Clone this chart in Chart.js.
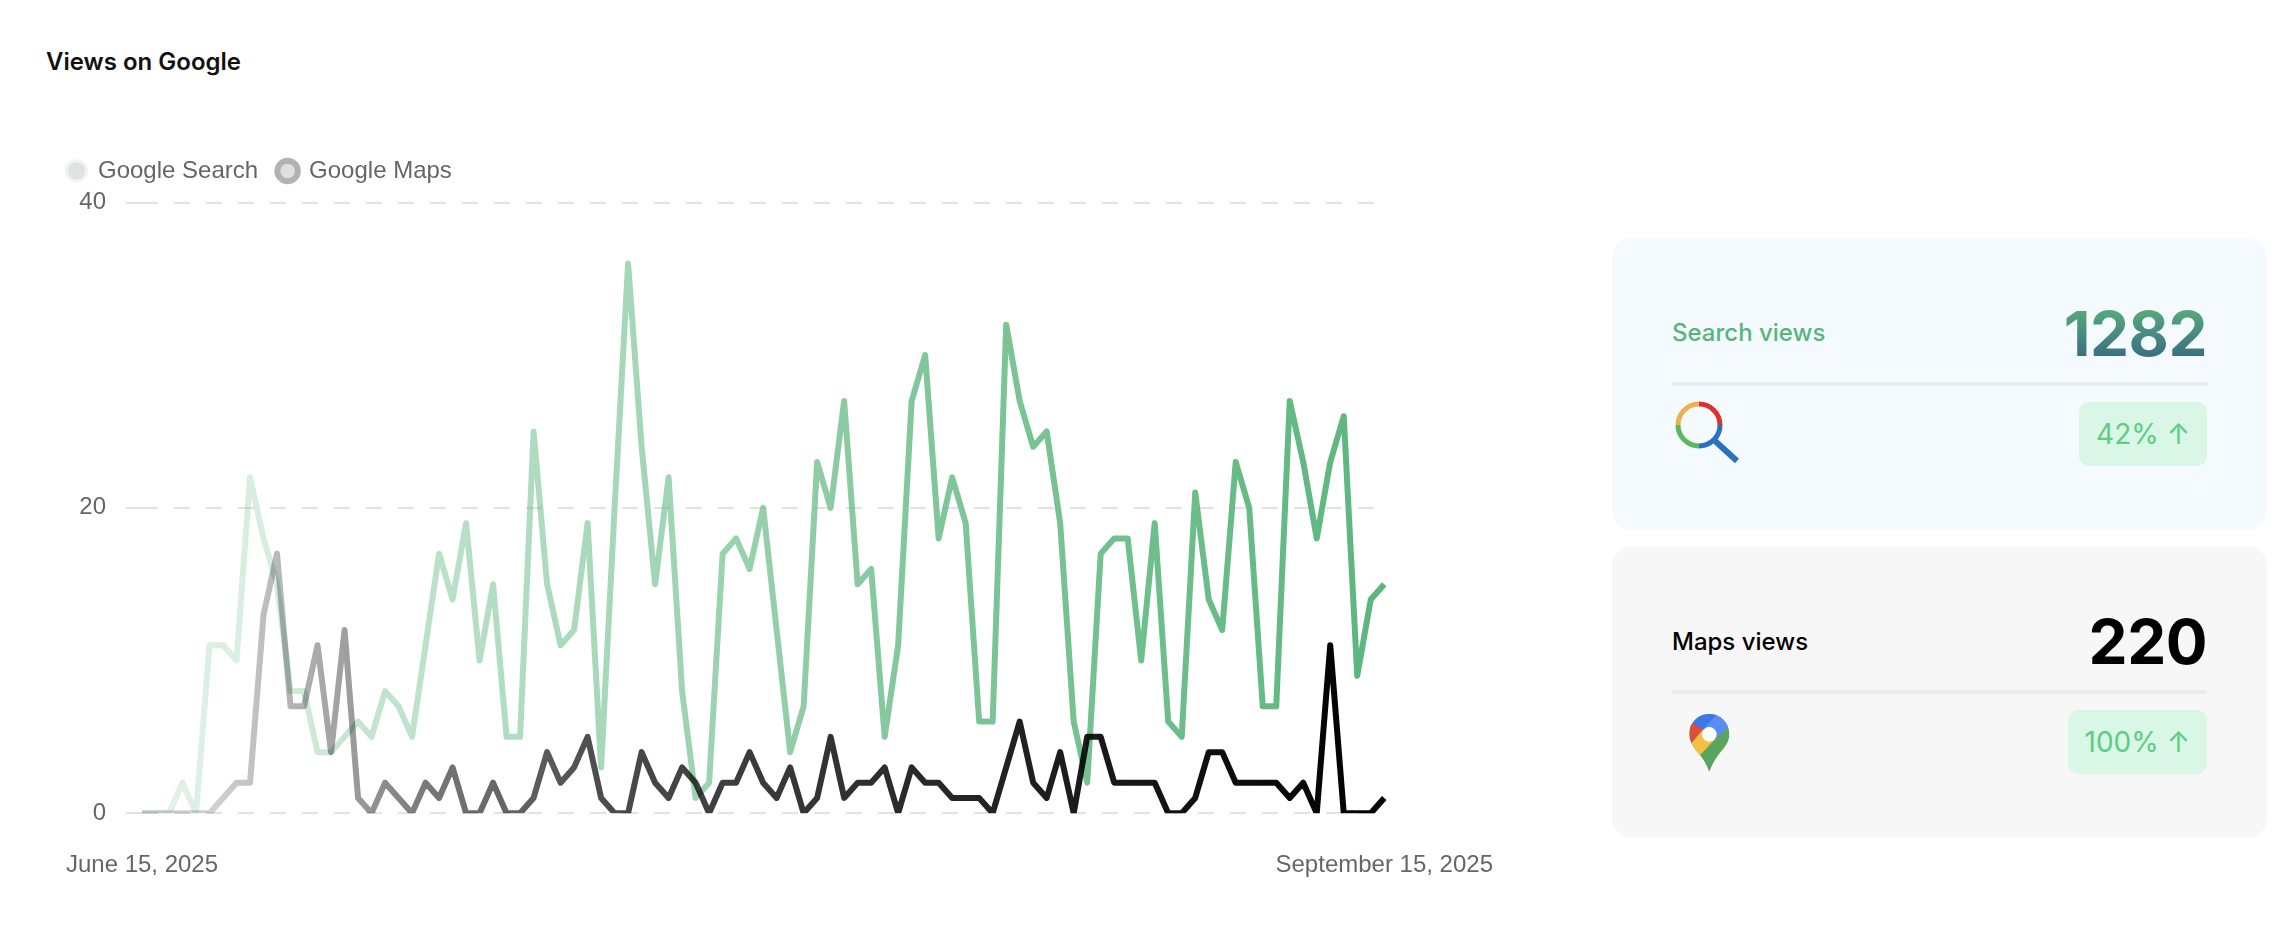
<!DOCTYPE html>
<html>
<head>
<meta charset="utf-8">
<title>Views on Google</title>
<script src="https://cdn.jsdelivr.net/npm/chart.js"></script>
<style>
    html, body { margin: 0; padding: 0; background: #fff; }
    body { width: 2290px; height: 936px; position: relative; overflow: hidden; font-family: Inter, sans-serif; }
    #heading { position: absolute; left: 46px; top: 47px; font-size: 24px; line-height: 30px; font-weight: 600; color: #111; }
    #chartjs-0 { position: absolute; left: 47px; top: 139px; }

    .card { position: absolute; left: 1612px; width: 655px; height: 292px; border-radius: 20px; }
    .card.search { top: 238px; background: #f5faff; }
    .card.maps { top: 546px; background: #f7f7f7; }
    .card .name { position: absolute; left: 60px; top: 80px; font-size: 24px; line-height: 30px; font-weight: 500; }
    .card .total { position: absolute; right: 60px; top: 58px; font-size: 62px; line-height: 76px; font-weight: 700; letter-spacing: -0.5px; }
    .card .rule { position: absolute; left: 60px; right: 60px; top: 144px; height: 4px; }
    .card .badge { position: absolute; right: 60px; top: 164px; height: 64px; line-height: 64px; padding: 0 17px; border-radius: 10px;
                   background: #d9f6e6; color: #5ccd85; font-size: 28px; font-weight: 400; }
    .search .name { color: #55b67a; }
    .search .total { background: linear-gradient(#56a77c 20%, #3b6f82 80%); -webkit-background-clip: text; background-clip: text; color: transparent; }
    .search .rule { background: #e9edf1; }
    .maps .name { top: 81px; }
    .maps .name, .maps .total { color: #000; }
    .maps .rule { background: #ebebeb; }
    .card svg { position: absolute; }
</style>
</head>
<body>
<div id="heading">Views on Google</div>
<canvas id="chartjs-0" width="1446" height="741"></canvas>

<div class="card search">
    <div class="name">Search views</div>
    <div class="total">1282</div>
    <div class="rule"></div>
    <svg style="left:48px;top:153px" width="100" height="80" viewBox="0 0 100 80" fill="none">
        <path d="M39 13 A21 21 0 0 1 60 34" stroke="#dd3131" stroke-width="5"/>
        <path d="M60 34 A21 21 0 0 1 39 55" stroke="#2b6fbf" stroke-width="5"/>
        <path d="M39 55 A21 21 0 0 1 18 34" stroke="#5cb85c" stroke-width="5"/>
        <path d="M18 34 A21 21 0 0 1 39 13" stroke="#f0b04f" stroke-width="5"/>
        <path d="M54 49 L77 70" stroke="#2b6fbf" stroke-width="6"/>
    </svg>
    <div class="badge">42% ↑</div>
</div>

<div class="card maps">
    <div class="name">Maps views</div>
    <div class="total">220</div>
    <div class="rule"></div>
    <svg style="left:58px;top:154px" width="80" height="80" viewBox="0 0 240 240">
        <defs>
            <clipPath id="pin"><path d="M118 42 C85 42 58 68 58 102 C58 130 78 150 95 172 C105 185 112 200 118 215 C124 200 132 182 145 165 C160 145 178 130 178 102 C178 68 150 42 118 42 Z"/></clipPath>
        </defs>
        <g clip-path="url(#pin)">
            <rect x="50" y="35" width="135" height="185" fill="#59a55f"/>
            <polygon points="50,40 145,40 100,88 50,80" fill="#3b78e7"/>
            <polygon points="145,40 185,40 185,70 135,118 100,88" fill="#5a8df3"/>
            <polygon points="50,60 100,88 60,135 50,135" fill="#db4f3d"/>
            <polygon points="100,88 135,118 88,168 60,135" fill="#f4bf42"/>
        </g>
        <circle cx="118" cy="103" r="22" fill="#fff"/>
    </svg>
    <div class="badge">100% ↑</div>
</div>

<script>
// daily views, June 15 through September 15
var dayLabels = [
    "Jun 15", "Jun 16", "Jun 17", "Jun 18", "Jun 19", "Jun 20", "Jun 21", "Jun 22", "Jun 23", "Jun 24", "Jun 25", "Jun 26", "Jun 27", "Jun 28", "Jun 29", "Jun 30",
    "Jul 1", "Jul 2", "Jul 3", "Jul 4", "Jul 5", "Jul 6", "Jul 7", "Jul 8", "Jul 9", "Jul 10", "Jul 11", "Jul 12", "Jul 13", "Jul 14", "Jul 15", "Jul 16",
    "Jul 17", "Jul 18", "Jul 19", "Jul 20", "Jul 21", "Jul 22", "Jul 23", "Jul 24", "Jul 25", "Jul 26", "Jul 27", "Jul 28", "Jul 29", "Jul 30", "Jul 31",
    "Aug 1", "Aug 2", "Aug 3", "Aug 4", "Aug 5", "Aug 6", "Aug 7", "Aug 8", "Aug 9", "Aug 10", "Aug 11", "Aug 12", "Aug 13", "Aug 14", "Aug 15", "Aug 16",
    "Aug 17", "Aug 18", "Aug 19", "Aug 20", "Aug 21", "Aug 22", "Aug 23", "Aug 24", "Aug 25", "Aug 26", "Aug 27", "Aug 28", "Aug 29", "Aug 30", "Aug 31",
    "Sep 1", "Sep 2", "Sep 3", "Sep 4", "Sep 5", "Sep 6", "Sep 7", "Sep 8", "Sep 9", "Sep 10", "Sep 11", "Sep 12", "Sep 13", "Sep 14", "Sep 15"
];
var edgeLabels = ["June 15, 2025", "September 15, 2025"];
var yTicks = [0, 20, 40];

var searchViews = [
    0, 0, 0, 2, 0, 11, 11, 10, 22, 18, 15, 8, 8, 4, 4, 5, 6, 5, 8, 7, 5, 11, 17, 14, 19, 10, 15, 5, 5, 25, 15,
    11, 12, 19, 3, 20, 36, 24, 15, 22, 8, 1, 2, 17, 18, 16, 20, 12, 4, 7, 23, 20, 27, 15, 16, 5, 11, 27, 30, 18, 22,
    19, 6, 6, 32, 27, 24, 25, 19, 6, 2, 17, 18, 18, 10, 19, 6, 5, 21, 14, 12, 23, 20, 7, 7, 27, 23, 18, 23, 26, 9, 14, 15
];
var mapsViews = [
    0, 0, 0, 0, 0, 0, 1, 2, 2, 13, 17, 7, 7, 11, 4, 12, 1, 0, 2, 1, 0, 2, 1, 3, 0, 0, 2, 0, 0, 1, 4,
    2, 3, 5, 1, 0, 0, 4, 2, 1, 3, 2, 0, 2, 2, 4, 2, 1, 3, 0, 1, 5, 1, 2, 2, 3, 0, 3, 2, 2, 1,
    1, 1, 0, 3, 6, 2, 1, 4, 0, 5, 5, 2, 2, 2, 2, 0, 0, 1, 4, 4, 2, 2, 2, 2, 1, 2, 0, 11, 0, 0, 0, 1
];

// lines fade in from left to right, [position along the plot, opacity]
var searchFade = [[0, 0.17], [0.1, 0.25], [0.16, 0.34], [0.29, 0.47], [0.45, 0.6], [0.61, 0.76], [1, 1]];
var mapsFade = [[0, 0.17], [0.055, 0.18], [0.1, 0.26], [0.16, 0.37], [0.23, 0.53], [0.37, 0.7], [0.61, 0.83], [1, 1]];

function fadeLine(rgb, stops) {
    return function (ctx) {
        var area = ctx.chart.chartArea;
        if (!area) {
            return "rgb(" + rgb + ")";
        }
        var grad = ctx.chart.ctx.createLinearGradient(area.left, 0, area.right, 0);
        stops.forEach(function (s) {
            grad.addColorStop(s[0], "rgba(" + rgb + "," + s[1] + ")");
        });
        return grad;
    };
}

var labelFont = { family: "'Liberation Sans', Helvetica, Arial, sans-serif", size: 24 };

// extra room between the legend and the plot
var legendGap = {
    id: "legendGap",
    beforeInit: function (chart) {
        var fit = chart.legend.fit;
        chart.legend.fit = function () {
            fit.call(this);
            this.height += 9.5;
        };
    }
};

var myChart = new Chart(document.getElementById("chartjs-0"), {
    type: "line",
    plugins: [legendGap],
    data: {
        labels: dayLabels,
        datasets: [
            { label: "Google Search", data: searchViews, order: 1, borderColor: fadeLine("92,182,126", searchFade), swatchFill: "#dfe4e1", swatchLine: "#eff6f2", swatchWidth: 3 },
            { label: "Google Maps", data: mapsViews, order: 0, borderColor: fadeLine("0,0,0", mapsFade), swatchFill: "#e0e0e0", swatchLine: "#b2b2b2", swatchWidth: 6 }
        ]
    },
    options: {
        responsive: false,
        animation: false,
        elements: {
            line: { borderWidth: 6, tension: 0, borderJoinStyle: "round" },
            point: { radius: 0 }
        },
        plugins: {
            tooltip: { enabled: false },
            legend: {
                align: "start",
                labels: {
                    usePointStyle: true,
                    boxWidth: 19,
                    boxHeight: 14.5,
                    padding: 20,
                    color: "#666",
                    font: labelFont,
                    generateLabels: function (chart) {
                        return chart.data.datasets.map(function (d, i) {
                            return {
                                text: d.label,
                                datasetIndex: i,
                                fillStyle: d.swatchFill,
                                strokeStyle: d.swatchLine,
                                lineWidth: d.swatchWidth,
                                pointStyle: "circle",
                                fontColor: "#666"
                            };
                        });
                    }
                }
            }
        },
        scales: {
            x: {
                // tickLength only reserves the gap above the labels, no marks are drawn
                grid: { display: false, drawTicks: true, tickLength: 38 },
                border: { display: false },
                ticks: {
                    autoSkip: false,
                    maxRotation: 0,
                    padding: 0,
                    color: "#666",
                    font: labelFont,
                    callback: function (value, index) {
                        if (index === 0) return edgeLabels[0];
                        if (index === dayLabels.length - 1) return edgeLabels[1];
                        return "";
                    }
                }
            },
            y: {
                min: yTicks[0],
                max: yTicks[yTicks.length - 1],
                afterFit: function (scale) { scale.width = 95; },
                grid: { color: "#e2e2e2", lineWidth: 2, tickLength: 16, tickColor: "#e2e2e2" },
                border: { display: false, dash: [16, 16] },
                ticks: { stepSize: 20, padding: 20, color: "#666", font: labelFont }
            }
        }
    }
});
</script>
</body>
</html>
